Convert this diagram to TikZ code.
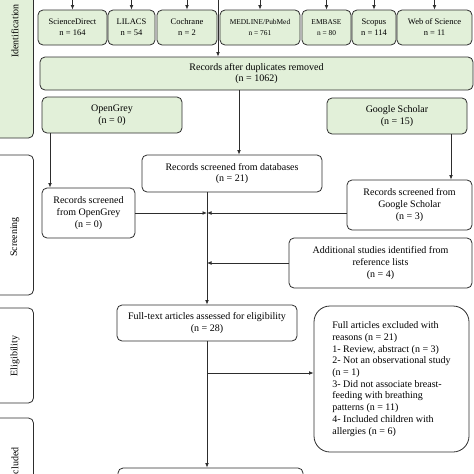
\documentclass[tikz,border=0pt]{standalone}
\usepackage{fontspec}
\setmainfont{Liberation Serif}
\usetikzlibrary{arrows.meta}
\definecolor{boxgreen}{RGB}{226,240,217}
\definecolor{edgec}{RGB}{45,45,45}
\begin{document}
\begin{tikzpicture}[x=1pt,y=-1pt,
  box/.style={draw=edgec, line width=0.8pt, rounded corners=5pt, fill=white, align=center, inner sep=1pt, font=\fontsize{10}{11.7}\selectfont},
  gbox/.style={box, fill=boxgreen},
  db/.style={gbox, minimum height=35pt, font=\fontsize{8.5}{11}\selectfont},
  arr/.style={draw=edgec, line width=0.8pt, -{Latex[length=4.5pt,width=3.8pt]}},
  phase/.style={draw=edgec, line width=0.8pt, rounded corners=5pt, inner sep=0pt},
  phaselab/.style={rotate=90, font=\fontsize{10}{12}\selectfont}
]
\useasboundingbox (0,0) rectangle (474,474);
\clip (0,0) rectangle (474,474);

% phase boxes
\node[phase, fill=boxgreen, minimum width=44pt, minimum height=218pt] (pid) at (11.5,29) {};
\node[phase, fill=white, minimum width=44pt, minimum height=140pt] (pscr) at (11.5,225) {};
\node[phase, fill=white, minimum width=44pt, minimum height=95pt] (pelg) at (11.5,355.5) {};
\node[phase, fill=white, minimum width=44pt, minimum height=112pt] (pinc) at (11.5,474) {};
\node[phaselab] (lid) at (15,31) {Identification};
\node[phaselab] (lscr) at (15,237) {Screening};
\node[phaselab] (lelg) at (15,356) {Eligibility};
\node[phaselab] (linc) at (15,465) {Included};

% databases
\node[db, minimum width=69pt] (sd) at (72.5,27.5) {ScienceDirect\\n = 164};
\node[db, minimum width=47pt] (lil) at (131.5,27.5) {LILACS\\n = 54};
\node[db, minimum width=60pt] (coch) at (187,27.5) {Cochrane\\n = 2};
\node[db, minimum width=80pt, font=\fontsize{7.4}{11}\selectfont] (med) at (260,27.5) {MEDLINE/PubMed\\n = 761};
\node[db, minimum width=49pt, font=\fontsize{7.4}{11}\selectfont] (emb) at (326.5,27.5) {EMBASE\\n = 80};
\node[db, minimum width=44pt] (sco) at (374,27.5) {Scopus\\n = 114};
\node[db, minimum width=75pt] (wos) at (434.5,27.5) {Web of Science\\n = 11};

\node[gbox, minimum width=433pt, minimum height=33pt] (dup) at (256.5,73.5) {Records after duplicates removed\\(n = 1062)};
\node[gbox, minimum width=140pt, minimum height=36pt] (og) at (112,115) {OpenGrey\\(n = 0)};
\node[gbox, minimum width=140pt, minimum height=36pt] (gs) at (397,116) {Google Scholar\\(n = 15)};

\node[box, minimum width=180pt, minimum height=37pt] (rsd) at (232,173.5) {Records screened from databases\\(n = 21)};
\node[box, minimum width=93pt, minimum height=50pt] (rsog) at (88.5,213) {Records screened\\from OpenGrey\\(n = 0)};
\node[box, minimum width=125pt, minimum height=50pt] (rsgs) at (409.5,205) {Records screened from\\Google Scholar\\(n = 3)};
\node[box, minimum width=183pt, minimum height=50pt] (add) at (380.5,263) {Additional studies identified from\\reference lists\\(n = 4)};
\node[box, minimum width=180pt, minimum height=36pt] (ft) at (207,323) {Full-text articles assessed for eligibility\\(n = 28)};
\node[box, rounded corners=16pt, minimum width=155pt, minimum height=146pt, align=left] (exc) at (391.5,379) {Full articles excluded with\\reasons (n = 21)\\1- Review, abstract (n = 3)\\2- Not an observational study\\(n = 1)\\3- Did not associate breast-\\feeding with breathing\\patterns (n = 11)\\4- Included children with\\allergies (n = 6)};
\node[box, minimum width=185pt, minimum height=44pt] (inc) at (210.5,490) {};

% connectors
\foreach \n in {sd,lil,coch,med,emb,sco,wos} \draw[arr] ([yshift=14pt]\n.north) -- (\n.north);
\coordinate (tdup) at (218,-2);
\draw[arr] (tdup) -- (tdup |- dup.north);
\coordinate (c2) at (239,0);
\draw[arr] (dup.south -| c2) -- (rsd.north -| c2);
\coordinate (c3) at (50,0);
\draw[arr] (og.south -| c3) -- (rsog.north -| c3);
\coordinate (c4) at (451,0);
\draw[arr] (gs.south -| c4) -- (rsgs.north -| c4);
\draw[arr] (rsd.south -| ft.north) -- (ft.north);
\coordinate (j1) at (207,213);
\draw[arr] (rsog.east |- j1) -- (j1);
\draw[arr] (rsgs.west |- j1) -- (j1);
\draw[arr] (add.west) -- (add.west -| ft.north);
\draw[arr] (ft.south) -- (inc.north -| ft.south);
\coordinate (j3) at (207,373);
\draw[arr] (j3) -- (j3 -| exc.west);
\end{tikzpicture}
\end{document}
